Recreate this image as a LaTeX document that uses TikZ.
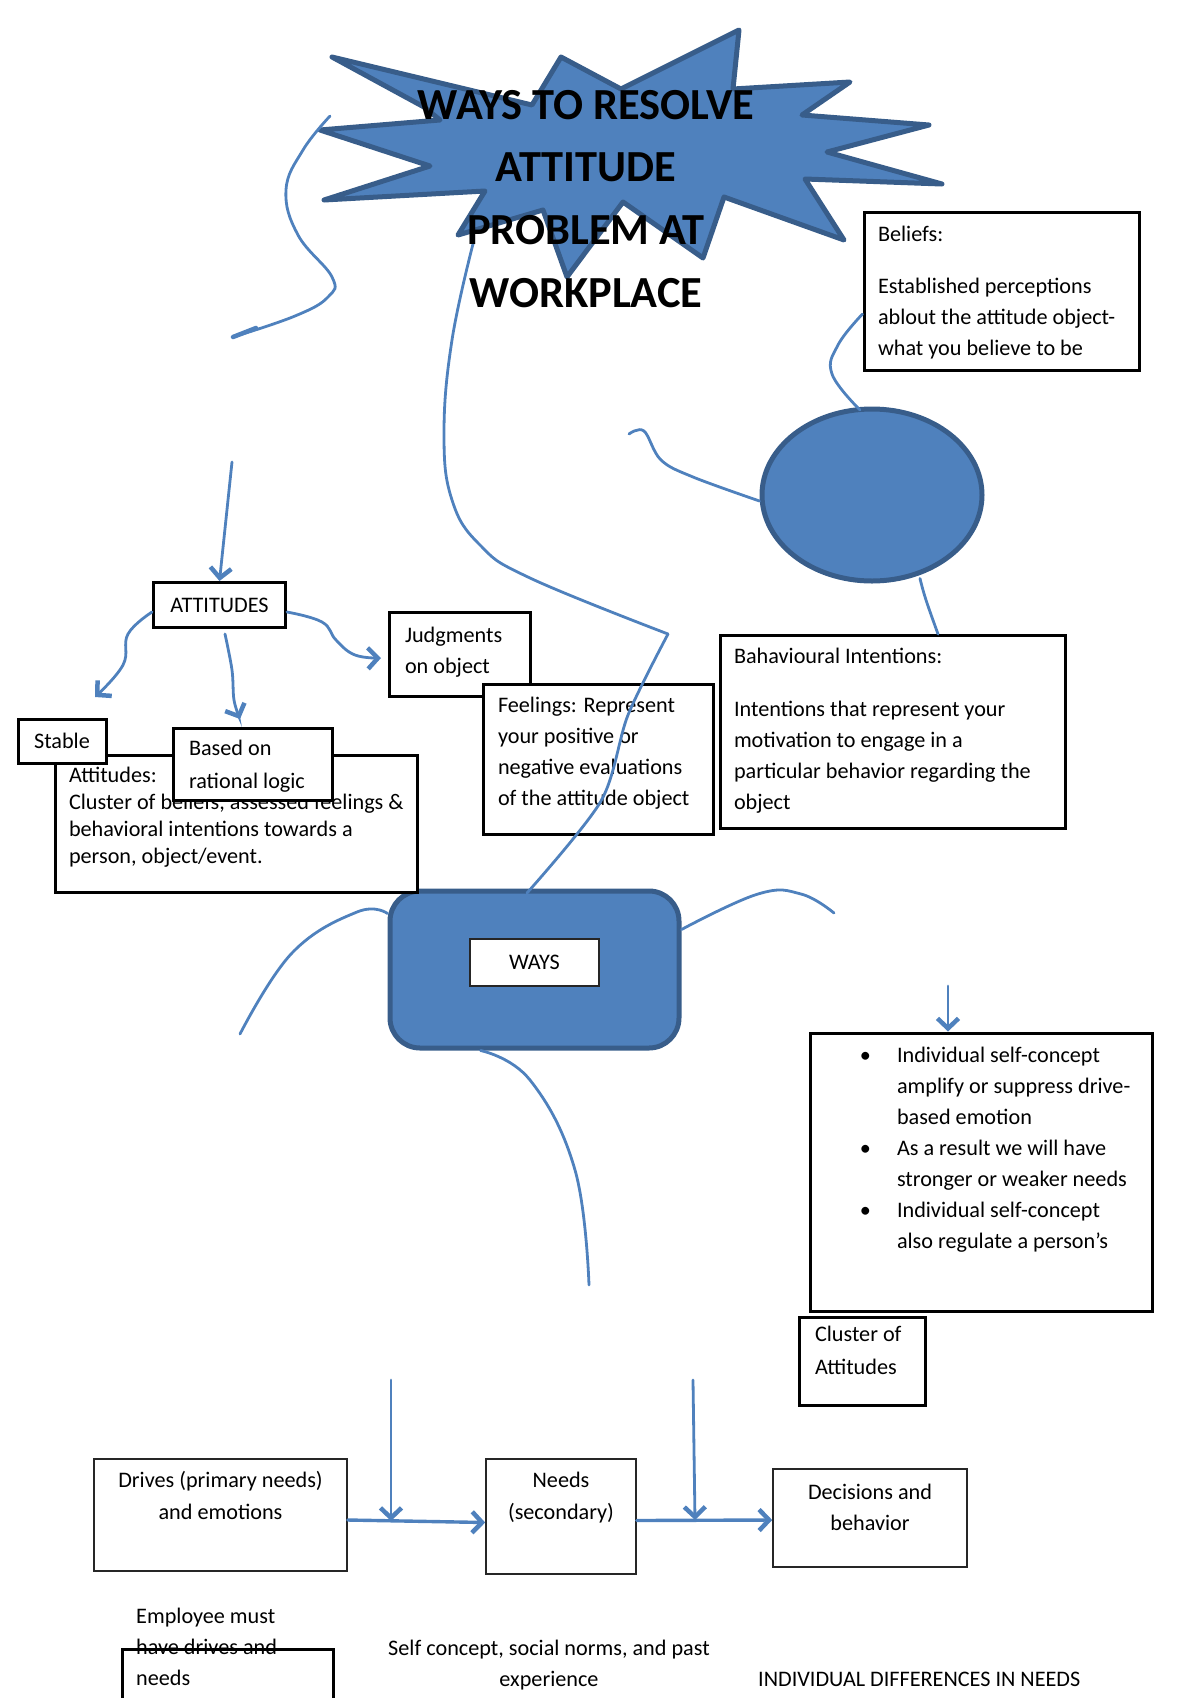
\documentclass[tikz,border=0pt]{standalone}
\usepackage{fontspec}
\setmainfont{Carlito}
\usetikzlibrary{arrows.meta,shapes.geometric,calc}
\definecolor{shapefill}{HTML}{4F81BD}
\definecolor{shapeline}{HTML}{385D8A}
\newcommand{\fitbox}[5]{\parbox[c][#2pt][t]{#1pt}{\leftskip=#3pt\relax\rightskip=-60pt plus 1fil\relax\parindent=0pt\vspace*{#4pt}\strut #5}}
\tikzset{
  x=1pt,y=-1pt,
  basefont/.style={font=\fontsize{22.2}{31}\selectfont},
  thickbox/.style={draw=black,line width=3pt,fill=white,inner sep=0pt,basefont},
  thinbox/.style={draw=black!85,line width=1.6pt,fill=white,inner sep=0pt,basefont},
  plaintext/.style={inner sep=0pt,basefont,align=left,anchor=north west,execute at begin node=\strut},
  blueshape/.style={fill=shapefill,draw=shapeline,line width=5pt,line join=round},
  conn/.style={draw=shapefill,line width=2.8pt,line cap=round},
  connarrow/.style={conn,-{Straight Barb[length=10pt,width=21pt,line width=4.5pt]}},
}
\begin{document}
\begin{tikzpicture}
\useasboundingbox (0,0) rectangle (1200,1698);
% burst
\draw[blueshape] (332,57) -- (532,105) -- (561,57) -- (621,89) -- (739,30) -- (733,89) -- (850,82) -- (802,115) -- (929,125) -- (827,152) -- (942,184) -- (805,179) -- (844,240) -- (724,197) -- (703,258) -- (623,202) -- (567,277) -- (543,210) -- (458,235) -- (485,191) -- (324,200) -- (430,166) -- (320,130) -- (440,120) -- (424,107) -- cycle;
\coordinate (burstleft) at (330,116);
\coordinate (burstbottom) at (473,244);
% ellipse and ways shape
\node[ellipse,blueshape,minimum width=220pt,minimum height=172pt,inner sep=0pt] (oval) at (872,495) {};
\node[rectangle,rounded corners=30pt,blueshape,minimum width=289pt,minimum height=157pt,inner sep=0pt] (waysshape) at (534.5,969.5) {};
\node[thinbox,minimum width=129pt,minimum height=47pt] (ways) at (534.5,962.5) {WAYS};
% boxes
\node[thickbox] (beliefs) at (1001.5,291) {\fitbox{275}{158}{14}{7.5}{Beliefs:\\[21pt]Established perceptions\\ablout the attitude object-\\what you believe to be}};
\node[thickbox,minimum width=132pt,minimum height=45pt] (attitudes) at (219.5,605) {ATTITUDES};
\node[thickbox] (judgments) at (459.5,654) {\fitbox{141}{84}{16}{8.5}{Judgments\\on object}};
\node[thickbox] (feelings) at (598,759) {\fitbox{230}{150}{15}{6.5}{Feelings: Represent\\your positive or\\negative evaluations\\of the attitude object}};
\node[thickbox] (attdef) at (236,823.5) {\fitbox{362}{137}{14}{5.5}{\fontsize{22.2}{27}\selectfont Attitudes:\\Cluster of beliefs, assessed feelings \&\\behavioral intentions towards a\\person, object/event.}};
\node[thickbox,minimum width=88pt,minimum height=44pt] (stable) at (62,741) {Stable};
\node[thickbox] (rational) at (252.5,764) {\fitbox{159}{72}{16}{5.5}{Based on\\[2pt]rational logic}};
\node[thickbox] (intentions) at (892.5,731.5) {\fitbox{345}{193}{14}{7}{Bahavioural Intentions:\\[22pt]Intentions that represent your\\motivation to engage in a\\particular behavior regarding the\\object}};
\node[thickbox] (individual) at (981,1172) {\fitbox{342}{278}{87}{7.5}{\llap{•\hspace{26pt}}Individual self-concept\\amplify or suppress drive-\\based emotion\\\llap{•\hspace{26pt}}As a result we will have\\stronger or weaker needs\\\llap{•\hspace{26pt}}Individual self-concept\\also regulate a person’s}};
\node[thickbox] (cluster) at (862,1361) {\fitbox{126}{88}{16}{3}{Cluster of\\[2pt]Attitudes}};
\node[thinbox] (drives) at (220.5,1515) {\fitbox{253}{112}{0}{7}{\centering Drives (primary needs)\\[1pt]and emotions}};
\node[thinbox] (needs) at (561,1516.5) {\fitbox{150}{115}{0}{7}{\centering Needs\\[1pt](secondary)}};
\node[thinbox] (decisions) at (870,1518) {\fitbox{194}{98}{0}{8.5}{\centering Decisions and\\behavior}};
% free text
\node[plaintext] (employee) at (136,1608) {Employee must\\have drives and\\needs};
\draw[black,line width=3pt] (122,1698) -- (122,1649) -- (333,1649) -- (333,1698);
\node[plaintext,align=center,anchor=north] (selfconcept) at (549,1640) {Self concept, social norms, and past\\experience};
\node[plaintext] (difference) at (758,1665) {INDIVIDUAL DIFFERENCES IN NEEDS};
% free ends
\coordinate (a1) at (232,462);
\coordinate (a2) at (95,697);
\coordinate (a3) at (240,719);
\coordinate (a4) at (381,658);
\coordinate (e1) at (233,337);
\coordinate (e2) at (629,434);
\coordinate (e3) at (240,1034);
\coordinate (e4) at (834,913);
\coordinate (e5) at (589,1285);
\coordinate (a5) at (948,986);
\coordinate (a6) at (391,1380);
\coordinate (a7) at (693,1380);
\coordinate (corner) at (668,634);
\coordinate (intop) at (938,634);
% connectors
\draw[conn] plot[smooth,tension=0.7] coordinates {(burstleft) (303,150) (286,190) (298,235) (332,277) (328,297) (295,316) (e1)};
\draw[conn,line width=4.5pt] (e1) -- (256,328);
\draw[connarrow] (a1) -- (attitudes.north);
\draw[connarrow] plot[smooth,tension=0.7] coordinates {([yshift=-7pt]attitudes.west) (128,634) (123,665) (a2)};
\draw[connarrow] plot[smooth,tension=0.6] coordinates {(225,634) (232,670) (234,700) (a3)};
\draw[connarrow] plot[smooth,tension=0.7] coordinates {([yshift=-7pt]attitudes.east) (322,622) (336,640) (355,655) (a4)};
\draw[conn] plot[smooth,tension=0.7] coordinates {(burstbottom) (452,340) (444,433) (452,500) (480,545) (530,578) (corner)};
\draw[conn] plot[smooth,tension=0.5] coordinates {(corner) (628,715) (601,801) (527,893)};
\draw[conn] plot[smooth,tension=0.7] coordinates {([yshift=-23pt]beliefs.west) (838,345) (832,374) (860,410)};
\draw[conn] plot[smooth,tension=0.6] coordinates {([yshift=-6pt]oval.west) (693,477) (661,460) (644,431) (e2)};
\draw[conn] plot[smooth,tension=0.7] coordinates {([xshift=48pt,yshift=5pt]oval.south) (926,600) (intop)};
\draw[conn] plot[smooth,tension=0.7] coordinates {([yshift=56pt]waysshape.west) (357,912) (292,953) (e3)};
\draw[conn] plot[smooth,tension=0.7] coordinates {([yshift=40pt]waysshape.east) (758,894) (801,894) (e4)};
\draw[conn] plot[smooth,tension=0.7] coordinates {([xshift=-54pt]waysshape.south) (530,1080) (575,1170) (e5)};
\draw[connarrow] (a5) -- (a5 |- individual.north);
\draw[connarrow,line width=3.4pt] ([yshift=-5pt]drives.east) -- ([yshift=-6pt]needs.west);
\draw[connarrow,line width=3.4pt] ([yshift=-4pt]needs.east) -- ([yshift=-2pt]decisions.west);
\draw[connarrow] (a6) -- (391,1521);
\draw[connarrow] (a7) -- (695,1520);
% title
\node[inner sep=0pt,align=center,font=\fontsize{44.4}{62.7}\selectfont\bfseries,execute at begin node=\strut] (title) at (586,208) {WAYS TO RESOLVE\\ATTITUDE\\PROBLEM AT\\WORKPLACE};
\end{tikzpicture}
\end{document}
